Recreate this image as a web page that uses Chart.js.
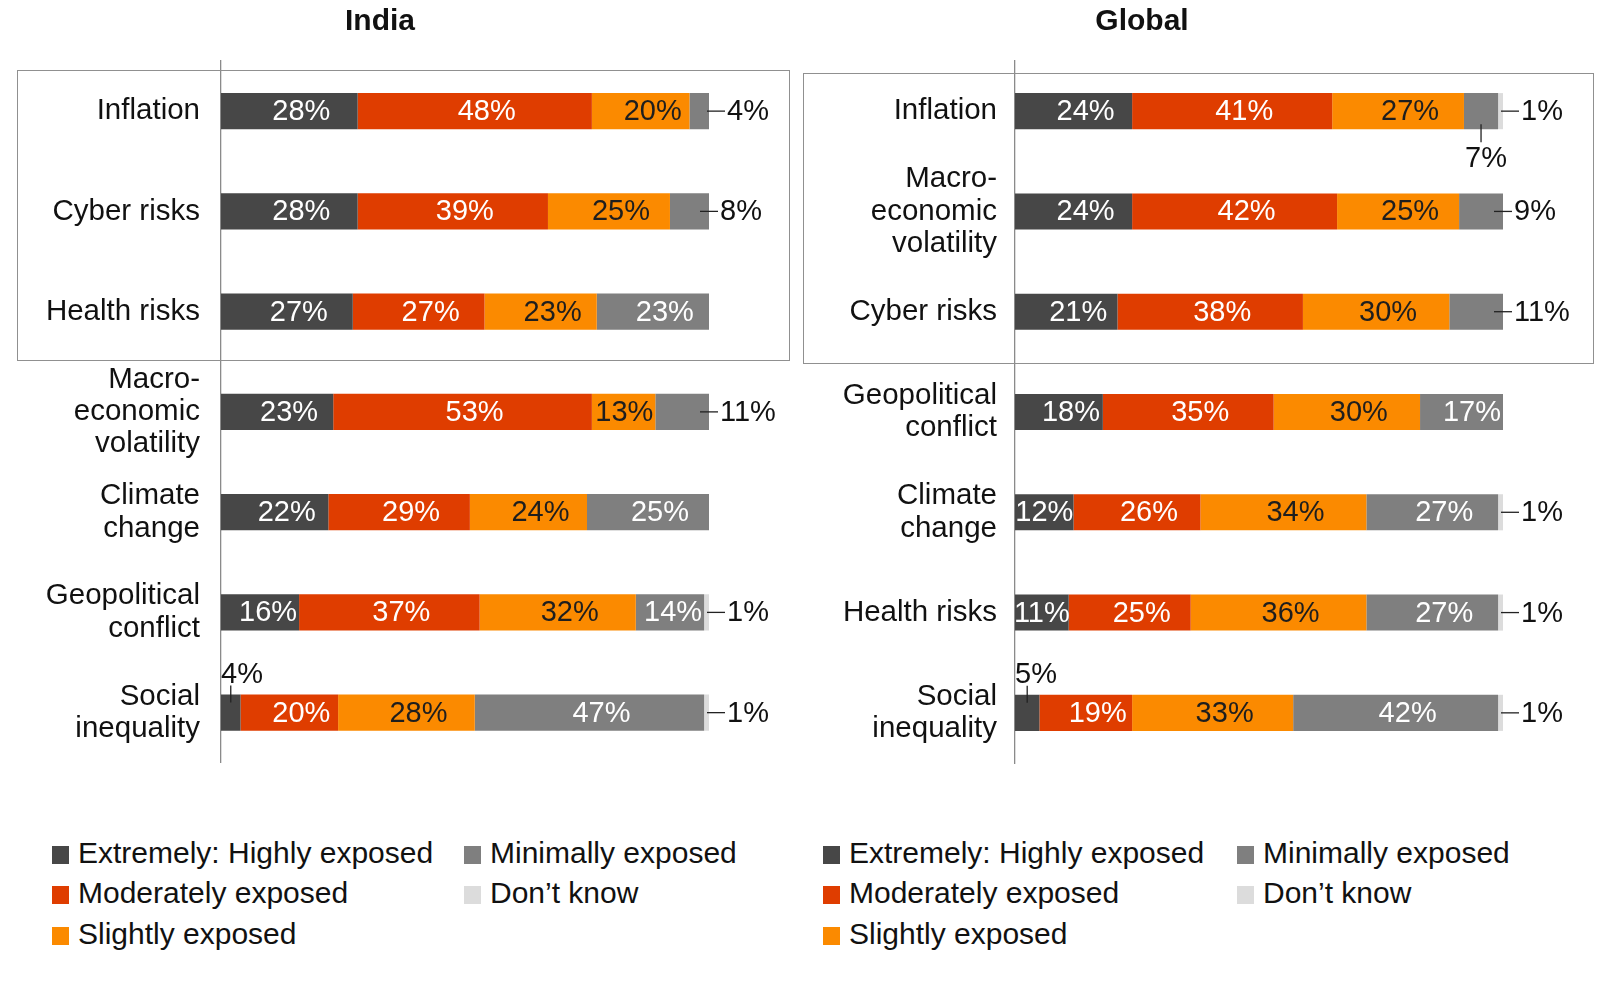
<!DOCTYPE html>
<html>
<head>
<meta charset="utf-8">
<script src="https://cdn.jsdelivr.net/npm/chart.js@4.4.1/dist/chart.umd.min.js"></script>
<style>
  body { margin: 0; background: #fff; font-family: "Liberation Sans", Arial, sans-serif; }
  #page { position: relative; width: 1600px; height: 990px; overflow: hidden; }
  canvas { position: absolute; top: 0; }
  .title { position: absolute; top: 3px; font-size: 30px; font-weight: bold; color: #111; transform: translateX(-50%); }
  .box { position: absolute; border: 1.5px solid #909090; box-sizing: border-box; pointer-events: none; }
  .legend-item { position: absolute; font-size: 30px; color: #111; white-space: nowrap; line-height: 32px; }
  .legend-item span { display: inline-block; width: 17px; height: 18px; margin-right: 9px; vertical-align: -1px; }
</style>
</head>
<body>
<div id="page">
  <canvas id="indiaChart" width="800" height="800" style="left:0"></canvas>
  <canvas id="globalChart" width="800" height="800" style="left:800px"></canvas>
  <div class="title" style="left:380px">India</div>
  <div class="title" style="left:1142px">Global</div>
  <div class="box" style="left:17px; top:70px; width:773px; height:291px"></div>
  <div class="box" style="left:803px; top:73px; width:791px; height:291px"></div>
  <div id="legends"></div>
</div>
<script>
const seriesNames = ['Extremely: Highly exposed', 'Moderately exposed', 'Slightly exposed', 'Minimally exposed', 'Don\u2019t know'];

const indiaRisks = ['Inflation', 'Cyber risks', 'Health risks', ['Macro-', 'economic', 'volatility'], ['Climate', 'change'], ['Geopolitical', 'conflict'], ['Social', 'inequality']];
const indiaExtremely = [28, 28, 27, 23, 22, 16, 4];
const indiaModerately = [48, 39, 27, 53, 29, 37, 20];
const indiaSlightly = [20, 25, 23, 13, 24, 32, 28];
const indiaMinimally = [4, 8, 23, 11, 25, 14, 47];
const indiaDontKnow = [0, 0, 0, 0, 0, 1, 1];

const globalRisks = ['Inflation', ['Macro-', 'economic', 'volatility'], 'Cyber risks', ['Geopolitical', 'conflict'], ['Climate', 'change'], 'Health risks', ['Social', 'inequality']];
const globalExtremely = [24, 24, 21, 18, 12, 11, 5];
const globalModerately = [41, 42, 38, 35, 26, 25, 19];
const globalSlightly = [27, 25, 30, 30, 34, 36, 33];
const globalMinimally = [7, 9, 11, 17, 27, 27, 42];
const globalDontKnow = [1, 0, 0, 0, 1, 1, 1];

const barColors = ['#474747', '#df3d00', '#fb8a00', '#7f7f7f', '#dcdcdc'];
const labelColors = ['#ffffff', '#ffffff', '#1e1e1e', '#ffffff', '#1e1e1e'];
const fontFamily = '"Liberation Sans", Arial, sans-serif';

// draws the % labels, inside the bar or outside with a small leader line
const valueLabels = {
    id: 'valueLabels',
    afterDatasetsDraw(chart) {
        const ctx = chart.ctx;
        const sets = chart.data.datasets;
        ctx.save();
        ctx.font = '29px ' + fontFamily;
        ctx.textBaseline = 'middle';
        ctx.strokeStyle = '#222';
        ctx.lineWidth = 1.3;
        for (let i = 0; i < chart.data.labels.length; i++) {
            let last = -1;
            sets.forEach((ds, d) => { if (ds.data[i] > 0) last = d; });
            sets.forEach((ds, d) => {
                const v = ds.data[i];
                if (!v) return;
                const bar = chart.getDatasetMeta(d).data[i];
                const p = bar.getProps(['x', 'base', 'y', 'height'], true);
                const left = Math.min(p.x, p.base);
                const right = Math.max(p.x, p.base);
                const top = p.y - p.height / 2;
                const bottom = p.y + p.height / 2;
                const cx = (left + right) / 2;
                const txt = v + '%';
                ctx.fillStyle = '#111';
                if (d === 0 && v < 10) {
                    ctx.beginPath();
                    ctx.moveTo(cx, top - 9);
                    ctx.lineTo(cx, top + 8);
                    ctx.stroke();
                    ctx.textAlign = 'left';
                    ctx.fillText(txt, left, top - 20);
                } else if (d === last && v < 12) {
                    const x1 = (right - left) < 25 ? right - 2 : right - 9;
                    ctx.beginPath();
                    ctx.moveTo(x1, p.y);
                    ctx.lineTo(x1 + 18, p.y);
                    ctx.stroke();
                    ctx.textAlign = 'left';
                    ctx.fillText(txt, x1 + 20, p.y + 1);
                } else if (v < 10) {
                    ctx.beginPath();
                    ctx.moveTo(cx, bottom - 5);
                    ctx.lineTo(cx, bottom + 13);
                    ctx.stroke();
                    ctx.textAlign = 'center';
                    ctx.fillText(txt, cx + 5, bottom + 30);
                } else {
                    // labels sit a little right of centre when there is room
                    const room = (right - left - ctx.measureText(txt).width) / 2 - 2;
                    const shift = Math.max(0, Math.min(12, room));
                    ctx.fillStyle = labelColors[d];
                    ctx.textAlign = 'center';
                    ctx.fillText(txt, cx + shift, p.y + 1);
                }
            });
        }
        ctx.restore();
    }
};

function makeDatasets(values) {
    return values.map((data, d) => ({
        label: seriesNames[d],
        data: data,
        backgroundColor: barColors[d],
        borderWidth: 0,
        barPercentage: 0.36,
        categoryPercentage: 1
    }));
}

function createChart(canvasId, labels, values, axisWidth, padRight, labelPad) {
    const ctx = document.getElementById(canvasId).getContext('2d');
    new Chart(ctx, {
        type: 'bar',
        data: { labels: labels, datasets: makeDatasets(values) },
        options: {
            indexAxis: 'y',
            responsive: false,
            animation: false,
            layout: { padding: { top: 61, bottom: 37, left: 0, right: padRight } },
            plugins: { legend: { display: false }, tooltip: { enabled: false } },
            scales: {
                x: { stacked: true, min: 0, max: 100, display: false },
                y: {
                    stacked: true,
                    grid: { display: false, drawTicks: false },
                    border: { display: true, color: '#8a8a8a', width: 1.3 },
                    ticks: {
                        autoSkip: false,
                        color: '#111',
                        padding: labelPad,
                        font: { family: fontFamily, size: 29.5, lineHeight: 1.1 }
                    },
                    afterFit: (scale) => { scale.width = axisWidth; }
                }
            }
        },
        plugins: [valueLabels]
    });
}

createChart('indiaChart', indiaRisks,
    [indiaExtremely, indiaModerately, indiaSlightly, indiaMinimally, indiaDontKnow], 221, 91, 21);
createChart('globalChart', globalRisks,
    [globalExtremely, globalModerately, globalSlightly, globalMinimally, globalDontKnow], 215, 97, 18);

// legends: two columns, first three series then the rest
function buildLegend(col1X, col2X) {
    const holder = document.getElementById('legends');
    const rowsY = [837, 877, 918];
    seriesNames.forEach((name, i) => {
        const el = document.createElement('div');
        el.className = 'legend-item';
        el.style.left = (i < 3 ? col1X : col2X) + 'px';
        el.style.top = rowsY[i % 3] + 'px';
        el.innerHTML = '<span style="background:' + barColors[i] + '"></span>' + name;
        holder.appendChild(el);
    });
}
buildLegend(52, 464);
buildLegend(823, 1237);
</script>
</body>
</html>
